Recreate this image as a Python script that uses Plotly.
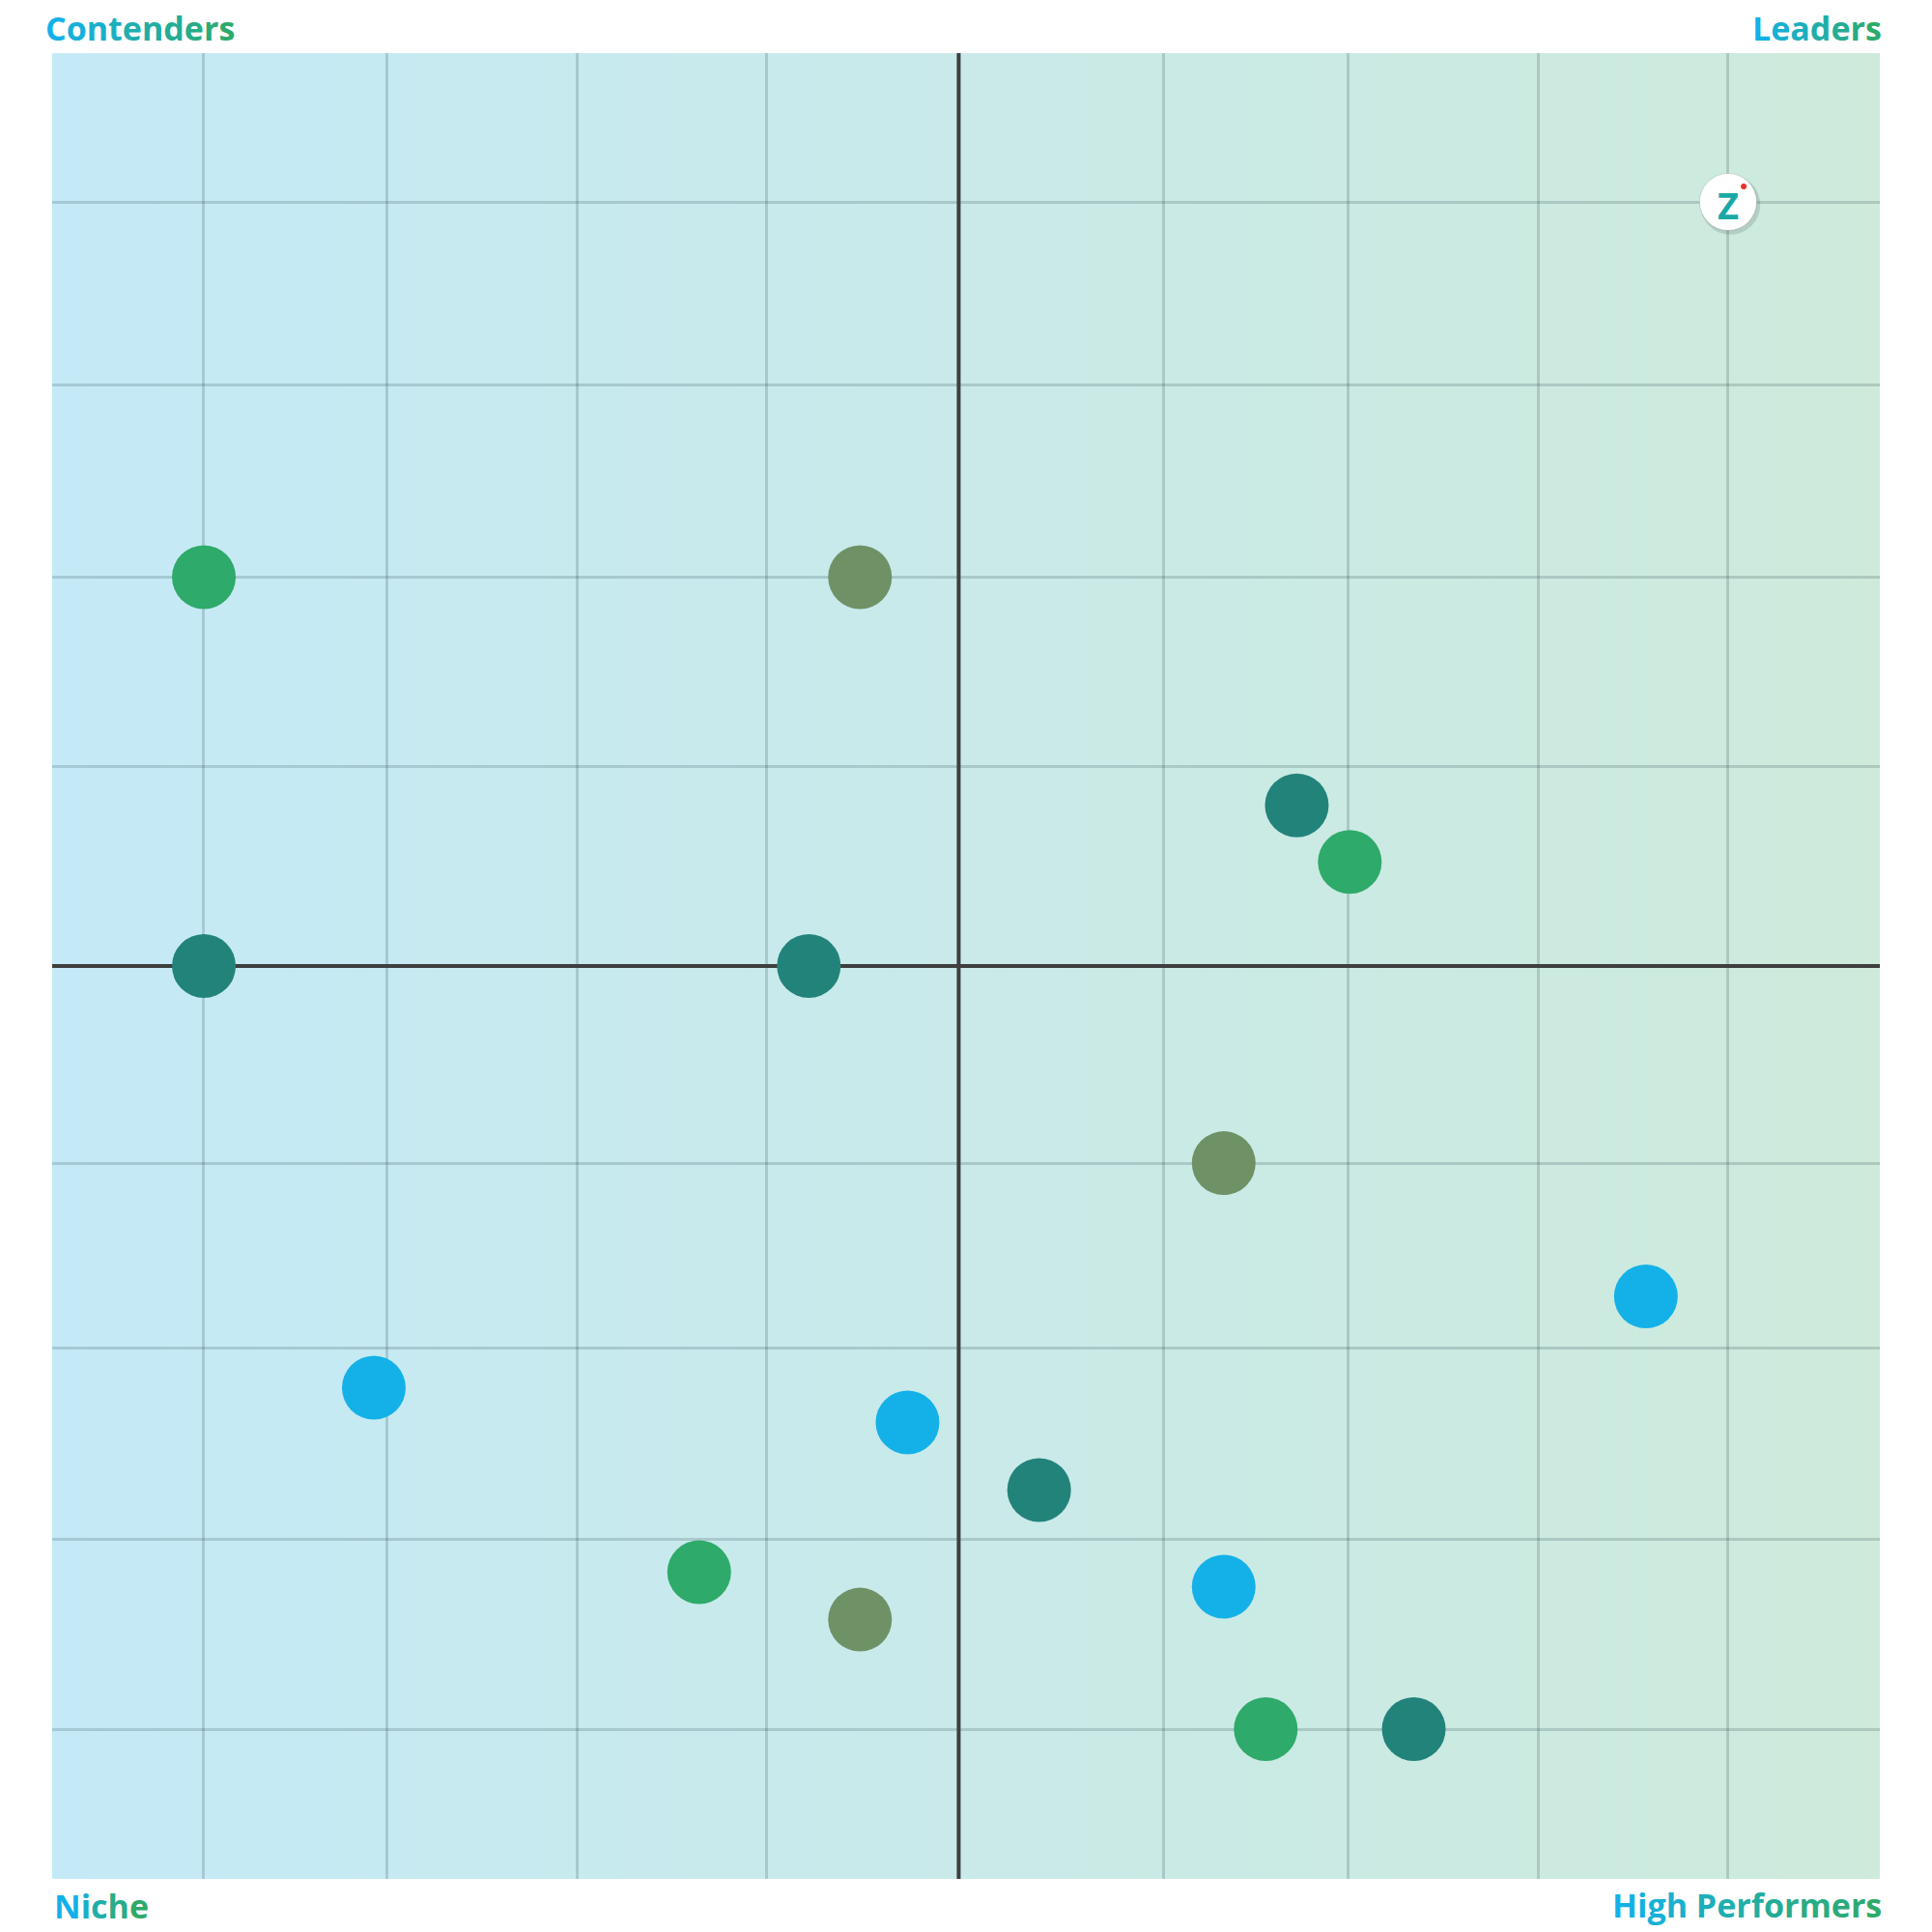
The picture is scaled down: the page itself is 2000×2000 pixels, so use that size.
import plotly.graph_objects as go

# ---------------- data ----------------
# positions on a 0..100 scale (x: left->right, y: bottom->top)
product_x = [8.3, 44.2, 68.1, 71.0, 8.3, 41.4, 64.1, 87.2, 17.6, 46.8, 54.0, 35.4, 44.2, 64.1, 66.4, 74.5]
product_y = [71.3, 71.3, 58.8, 55.7, 50.0, 50.0, 39.2, 31.9, 26.9, 25.0, 21.3, 16.8, 14.2, 16.0, 8.2, 8.2]
product_group = ["green", "olive", "teal", "green", "teal", "teal", "olive", "blue",
                 "blue", "blue", "teal", "green", "olive", "blue", "green", "teal"]
highlight_x = [91.7]
highlight_y = [91.85]

grid_x = [8.25, 18.3, 28.75, 39.1, 60.8, 70.9, 81.3, 91.7]
grid_y = [8.2, 18.6, 29.1, 39.2, 60.95, 71.3, 81.8, 91.85]
center_x = 49.6
center_y = 50.0

quadrant_labels = ["Contenders", "Leaders", "Niche", "High Performers"]

# ---------------- style ----------------
group_colors = {"green": "#2eaa6a", "olive": "#6f9166", "teal": "#22837b", "blue": "#14b1e8"}
bg_left = (197, 234, 247)
bg_right = (205, 234, 219)
grad_start = (20, 177, 232)
grad_end = (46, 170, 106)


def lerp(c1, c2, t):
    return tuple(round(a + (b - a) * t) for a, b in zip(c1, c2))


def gradient_text(s):
    n = max(len(s) - 1, 1)
    parts = []
    for i, ch in enumerate(s):
        r, g, b = lerp(grad_start, grad_end, i / n)
        parts.append(f'<span style="color:rgb({r},{g},{b})">{ch}</span>')
    return "<b>" + "".join(parts) + "</b>"


fig = go.Figure()

# background gradient (shapes drawn below gridlines)
shapes = []
N = 200
for i in range(N):
    r, g, b = lerp(bg_left, bg_right, (i + 0.5) / N)
    shapes.append(dict(type="rect", xref="x", yref="y", x0=100 * i / N, x1=100 * (i + 1) / N + 0.05,
                       y0=0, y1=100, fillcolor=f"rgb({r},{g},{b})", line=dict(width=0), layer="below"))
# center dividing lines
shapes.append(dict(type="line", xref="x", yref="y", x0=center_x, x1=center_x, y0=0, y1=100,
                   line=dict(color="#3f3f3f", width=4), layer="between"))
shapes.append(dict(type="line", xref="x", yref="y", x0=0, x1=100, y0=center_y, y1=center_y,
                   line=dict(color="#3f3f3f", width=4), layer="between"))

for grp, col in group_colors.items():
    xs = [x for x, g in zip(product_x, product_group) if g == grp]
    ys = [y for y, g in zip(product_y, product_group) if g == grp]
    fig.add_trace(go.Scatter(x=xs, y=ys, mode="markers", name=grp,
                             marker=dict(size=66, color=col, line=dict(width=0)),
                             hoverinfo="skip", showlegend=False))

# highlighted product: shadow, white badge, red dot
fig.add_trace(go.Scatter(x=[v + 0.12 for v in highlight_x], y=[v - 0.15 for v in highlight_y], mode="markers",
                         marker=dict(size=62, color="rgba(0,0,0,0.12)", line=dict(width=0)),
                         hoverinfo="skip", showlegend=False))
fig.add_trace(go.Scatter(x=highlight_x, y=highlight_y, mode="markers",
                         marker=dict(size=59, color="white", line=dict(width=1, color="rgba(0,0,0,0.12)")),
                         hoverinfo="skip", showlegend=False))
fig.add_trace(go.Scatter(x=[v + 0.85 for v in highlight_x], y=[v + 0.85 for v in highlight_y], mode="markers",
                         marker=dict(size=6, color="#e8302a", line=dict(width=0)),
                         hoverinfo="skip", showlegend=False))

font = dict(family="Open Sans", size=34)
ann = [
    dict(text=gradient_text(quadrant_labels[0]), x=-0.0035, y=1.0138, xanchor="left", yanchor="middle"),
    dict(text=gradient_text(quadrant_labels[1]), x=1.0012, y=1.0138, xanchor="right", yanchor="middle"),
    dict(text=gradient_text(quadrant_labels[2]), x=0.001, y=-0.0148, xanchor="left", yanchor="middle"),
    dict(text=gradient_text(quadrant_labels[3]), x=1.0012, y=-0.0143, xanchor="right", yanchor="middle"),
]
for a in ann:
    a.update(xref="paper", yref="paper", showarrow=False, font=font, borderpad=0, borderwidth=0)
# logo letter
ann.append(dict(text="<b>Z</b>", x=highlight_x[0], y=highlight_y[0], xref="x", yref="y", showarrow=False,
                xanchor="center", yanchor="middle", yshift=-3,
                font=dict(family="Open Sans", size=38, color="#1aa9a6")))

axis_common = dict(range=[0, 100], showticklabels=False, ticks="", showline=False, zeroline=False,
                   showgrid=True, gridcolor="rgba(10,40,50,0.17)", gridwidth=3, fixedrange=True)
fig.update_layout(
    width=2000, height=2000,
    margin=dict(l=54, r=54, t=55, b=55),
    paper_bgcolor="white", plot_bgcolor="white",
    xaxis=dict(tickvals=grid_x, **axis_common),
    yaxis=dict(tickvals=grid_y, **axis_common),
    shapes=shapes, annotations=ann,
    showlegend=False,
)
fig.write_html("out.html")
